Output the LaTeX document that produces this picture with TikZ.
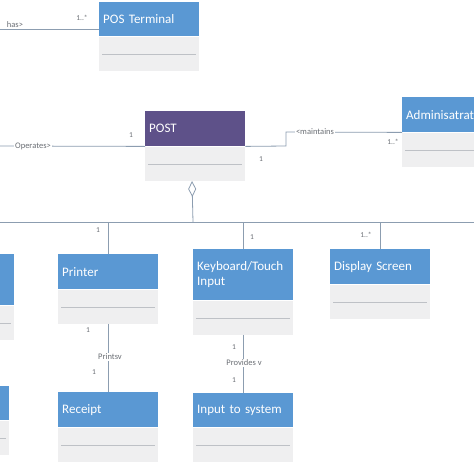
\documentclass[tikz,border=0pt]{standalone}
\usepackage{fontspec}
\setmainfont{Carlito}
\usetikzlibrary{arrows.meta,calc}
\definecolor{hblue}{HTML}{5A98D3}
\definecolor{hpurple}{HTML}{5E5189}
\definecolor{bodyg}{HTML}{EFEFF0}
\definecolor{divg}{HTML}{BEC1C6}
\definecolor{lineg}{HTML}{8C9DB0}
\definecolor{labg}{HTML}{6B6F75}
\tikzset{
  hdr/.style={rectangle, anchor=north west, fill=hblue, text=white, inner sep=0pt, inner xsep=4pt,
    text width=92pt, minimum width=100pt, align=left, font=\fontsize{13}{15.5}\selectfont},
  bodybox/.style={rectangle, anchor=north west, fill=bodyg, inner sep=0pt, minimum width=100pt, minimum height=34pt},
  divider/.style={draw=divg, line width=0.8pt},
  conn/.style={draw=lineg, line width=0.8pt},
  lab/.style={text=labg, inner sep=1pt, font=\fontsize{8.5}{9}\selectfont},
  onl/.style={lab, fill=white},
  mult/.style={text=labg, inner sep=0pt, font=\fontsize{7.5}{8}\selectfont}
}
\newcommand\umlbox[6]{%
  \node[hdr, fill=#5, minimum height=#4pt] (#1) at (#2,#3) {#6};
  \node[bodybox] (#1b) at (#1.south west) {};
  \draw[divider] ($(#1b.west)+(3,1)$) -- ($(#1b.east)+(-3,1)$);
}
\begin{document}
\begin{tikzpicture}[x=1pt,y=-1pt]
\useasboundingbox (0,0) rectangle (474,474);
\fill[white] (0,0) rectangle (474,474);
\clip (0,0) rectangle (474,474);

% classes
\umlbox{term}{99}{2}{34}{hblue}{POS Terminal}
\umlbox{post}{145}{111}{35}{hpurple}{POST}
\umlbox{admin}{402}{97}{35}{hblue}{Adminisatrator}
\umlbox{leftA}{-86}{254}{51}{hblue}{}
\umlbox{leftB}{-91}{386}{34}{hblue}{}
\umlbox{printer}{58}{254}{35}{hblue}{Printer}
\umlbox{receipt}{58}{392}{35}{hblue}{Receipt}
\umlbox{keyb}{193}{249}{51}{hblue}{Keyboard/Touch\\Input}
\umlbox{input}{193}{393}{34}{hblue}{Input to system}
\umlbox{disp}{330}{249}{35}{hblue}{Display Screen}

% free ends
\coordinate (hasL) at (0,29);
\coordinate (opL) at (0,146);
\coordinate (busL) at (0,222);
\coordinate (busR) at (474,222);
\coordinate (mtA) at (286,146);
\coordinate (mtB) at (286,132);
\coordinate (aggTop) at (192,181);
\coordinate (aggBot) at (193,222);

% has
\draw[conn] (hasL) -- (term.west |- hasL);
\node[onl] (hasl) at (15,25) {has>};
\node[mult] (hasm) at (82,18) {1..*};

% operates
\draw[conn] (opL) -- (post.south west);
\node[onl] (opl) at (33,146) {Operates>};
\node[mult] (opm) at (131,135) {1};

% maintains
\draw[conn] (post.south east) -- (mtA) -- (mtB) -- (admin.south west);
\node[onl] (mtl) at (315,132) {<maintains};
\node[mult] (mtm1) at (393,142) {1..*};
\node[mult] (mtm2) at (261,159) {1};

% aggregation bus
\draw[conn, {Diamond[open, length=16pt, width=8pt, line width=0.8pt]}-] (aggTop) -- (aggBot);
\draw[conn] (busL) -- (busR);
\draw[conn] (printer.north |- busL) -- (printer.north);
\draw[conn] (keyb.north |- busL) -- (keyb.north);
\draw[conn] (disp.north |- busL) -- (disp.north);
\node[mult] (pm) at (98,230) {1};
\node[mult] (km) at (252,237) {1};
\node[mult] (dm) at (366,235) {1..*};

% prints
\draw[conn] (printerb.south) -- (receipt.north);
\node[mult] (pr1) at (88,330) {1};
\node[onl] (prl) at (110,357) {Printsv};
\node[mult] (pr2) at (94,372) {1};

% provides
\draw[conn] (keybb.south) -- (input.north);
\node[mult] (pv1) at (234,347) {1};
\node[onl] (pvl) at (244,363) {Provides v};
\node[mult] (pv2) at (234,380) {1};
\end{tikzpicture}
\end{document}
